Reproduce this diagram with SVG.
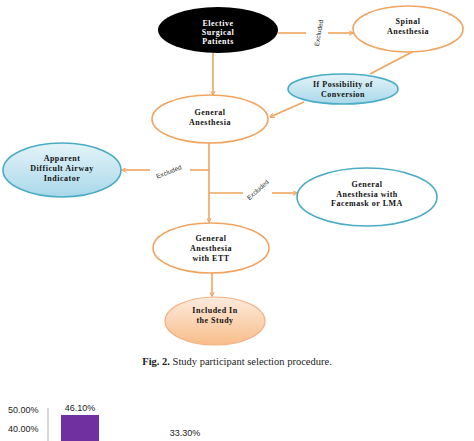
<svg xmlns="http://www.w3.org/2000/svg" width="474" height="441" viewBox="0 0 474 441">
<style>
.o{fill:#fff;stroke:#F0A45E;stroke-width:1.6}
.b{stroke:#4BACC6;stroke-width:1.6}
.t{font-family:"Liberation Serif",serif;font-weight:bold;font-size:8px;letter-spacing:0.5px;fill:#111;text-anchor:middle}
.w{fill:#fff}
.ln{stroke:#F0A45E;stroke-width:1.6;fill:none}
.ex{font-family:"Liberation Sans",sans-serif;font-size:6.5px;fill:#333;text-anchor:middle}
.cap{font-family:"Liberation Serif",serif;font-size:10.5px;fill:#222}
.ch{font-family:"Liberation Sans",sans-serif;font-size:9px;fill:#222}
</style>
<defs>
<marker id="ar" viewBox="0 0 10 10" refX="9" refY="5" markerWidth="5" markerHeight="5" orient="auto" markerUnits="userSpaceOnUse">
<path d="M0,0 L10,5 L0,10" fill="none" stroke="#F0A45E" stroke-width="2"/>
</marker>
<linearGradient id="bg" x1="0" y1="0" x2="0" y2="1">
<stop offset="0" stop-color="#E4F3F8"/><stop offset="1" stop-color="#A9D8EA"/>
</linearGradient>
<linearGradient id="og" x1="0" y1="0" x2="0" y2="1">
<stop offset="0" stop-color="#FDEBDD"/><stop offset="1" stop-color="#F8BD8A"/>
</linearGradient>
</defs>
<rect width="474" height="441" fill="#fff"/>
<g id="connectors">
<line class="ln" x1="278" y1="33" x2="306" y2="33"/>
<line class="ln" x1="328" y1="33" x2="353" y2="33" marker-end="url(#ar)"/>
<text class="ex" transform="translate(319,33) rotate(-80)" dy="2">Excluded</text>
<line class="ln" x1="213" y1="53" x2="213" y2="95" marker-end="url(#ar)"/>
<line class="ln" x1="412" y1="52" x2="370" y2="74"/>
<line class="ln" x1="304" y1="102" x2="270" y2="117" marker-end="url(#ar)"/>
<line class="ln" x1="209" y1="143" x2="209" y2="222" marker-end="url(#ar)"/>
<line class="ln" x1="209" y1="170" x2="190" y2="170"/>
<line class="ln" x1="150" y1="170" x2="122" y2="170" marker-end="url(#ar)"/>
<text class="ex" transform="translate(169,172) rotate(-22)" dy="2">Excluded</text>
<line class="ln" x1="209" y1="193" x2="243" y2="193"/>
<line class="ln" x1="272" y1="193" x2="297" y2="193" marker-end="url(#ar)"/>
<text class="ex" transform="translate(258,190) rotate(-42)" dy="2">Excluded</text>
<line class="ln" x1="212" y1="273" x2="212" y2="296" marker-end="url(#ar)"/>
</g>
<g id="elective">
<ellipse cx="218" cy="30" rx="60" ry="23" fill="#000"/>
<text class="t w" x="218" y="25.5">Elective</text>
<text class="t w" x="218" y="34.5">Surgical</text>
<text class="t w" x="218" y="43.5">Patients</text>
</g>
<g id="spinal">
<ellipse class="o" cx="408" cy="29" rx="55" ry="23"/>
<text class="t" x="408" y="23.5">Spinal</text>
<text class="t" x="408" y="33.5">Anesthesia</text>
</g>
<g id="conversion">
<ellipse class="b" cx="343" cy="89" rx="55" ry="15" fill="url(#bg)"/>
<text class="t" x="343" y="86.5">If Possibility of</text>
<text class="t" x="343" y="96.5">Conversion</text>
</g>
<g id="general">
<ellipse class="o" cx="210" cy="119" rx="58" ry="24"/>
<text class="t" x="210" y="114.5">General</text>
<text class="t" x="210" y="124.5">Anesthesia</text>
</g>
<g id="airway">
<ellipse class="b" cx="62" cy="170" rx="59" ry="27" fill="url(#bg)"/>
<text class="t" x="62" y="160.5">Apparent</text>
<text class="t" x="62" y="170.5">Difficult Airway</text>
<text class="t" x="62" y="180.5">Indicator</text>
</g>
<g id="facemask">
<ellipse class="b" cx="367" cy="197" rx="70" ry="29" fill="#fff"/>
<text class="t" x="367" y="186.5">General</text>
<text class="t" x="367" y="196.5">Anesthesia with</text>
<text class="t" x="367" y="205.5">Facemask or LMA</text>
</g>
<g id="ett">
<ellipse class="o" cx="211" cy="248" rx="58" ry="25"/>
<text class="t" x="211" y="240.5">General</text>
<text class="t" x="211" y="250.5">Anesthesia</text>
<text class="t" x="211" y="260.5">with ETT</text>
</g>
<g id="included">
<ellipse cx="215" cy="321" rx="50" ry="24" fill="url(#og)" stroke="#F4B183" stroke-width="1.2"/>
<text class="t" x="215" y="312.5">Included In</text>
<text class="t" x="215" y="322.5">the Study</text>
</g>
<text class="cap" x="237" y="365" text-anchor="middle"><tspan font-weight="bold">Fig. 2.</tspan> Study participant selection procedure.</text>
<g id="chart">
<text class="ch" x="8" y="413">50.00%</text>
<text class="ch" x="8" y="432">40.00%</text>
<line x1="48" y1="408" x2="48" y2="441" stroke="#999" stroke-width="0.8"/>
<text class="ch" x="80" y="411" text-anchor="middle">46.10%</text>
<rect x="61" y="415" width="38" height="26" fill="#7030A0"/>
<text class="ch" x="185" y="436" text-anchor="middle">33.30%</text>
</g>
</svg>
